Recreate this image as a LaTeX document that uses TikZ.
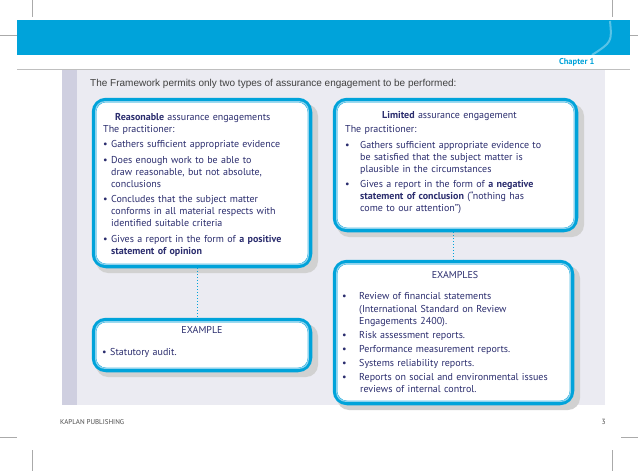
\documentclass[tikz,border=0pt]{standalone}
\usepackage{fontspec}
\setmainfont{PT Sans}
\newfontfamily\arialf{Liberation Sans}
\definecolor{band}{HTML}{00A3DA}
\definecolor{navy}{HTML}{2B2D6E}
\definecolor{panel}{HTML}{EBEBF2}
\definecolor{strip}{HTML}{CFCFE0}
\definecolor{ring}{HTML}{8FD3EE}
\definecolor{crop}{HTML}{AAAAAA}
\newcommand\bl[2][8pt]{\par\vspace{3.5pt}\hangindent=#1\hangafter=1\noindent\makebox[#1][l]{•}#2}
\newcommand\bs[2][17pt]{\par\vspace{1.5pt}\hangindent=#1\hangafter=1\noindent\makebox[#1][l]{•}#2}
\tikzset{
  boxshape/.style={draw=band,line width=4.5pt,fill=white,rounded corners=12pt,inner sep=0pt},
  inring/.style={draw=ring,line width=1.2pt,rounded corners=9pt},
  shade/.style={fill=black!18,rounded corners=12pt},
  txt/.style={text=navy,font=\fontsize{10}{12}\selectfont,inner sep=0pt,anchor=north west},
  dots/.style={draw=band,line width=1pt,dotted},
  cropline/.style={draw=crop,line width=0.6pt}
}
\begin{document}
\begin{tikzpicture}[x=1pt,y=-1pt]
\useasboundingbox (0,0) rectangle (638,471);
\fill[white] (0,0) rectangle (638,471);
% crop marks
\draw[cropline] (32,0)--(32,17) (612,0)--(612,17) (0,35)--(17,35) (621,35)--(638,35);
\draw[cropline] (0,437)--(17,437) (621,437)--(638,437) (32,450)--(32,471) (612,450)--(612,471);
% band
\fill[band] (17,20) rectangle (630,55);
\draw[white,opacity=0.35,line width=2pt] (610,21) .. controls (612,42) .. (592,55);
\draw[black!25,line width=0.6pt] (17,69)--(630,69);
\node[text=band,font=\fontsize{8.5}{10}\selectfont\bfseries,anchor=east] (chap) at (598,62) {Chapter 1};
% panel
\fill[panel] (62,70) rectangle (605,405);
\fill[strip] (62,70) rectangle (77,405);
\node[font=\arialf\fontsize{10}{12}\selectfont,text=black!75,anchor=west,inner sep=0pt] (title) at (90,84) {The Framework permits only two types of assurance engagement to be performed:};
% footer
\node[font=\fontsize{7}{8}\selectfont,text=black!70,anchor=west,inner sep=0pt] (foot) at (60,422) {KAPLAN PUBLISHING};
\node[font=\fontsize{7.5}{8}\selectfont,text=black!70,anchor=east,inner sep=0pt] (page) at (606,422) {3};
% shadows
\fill[shade] (96,104) rectangle (318,273);
\fill[shade] (96,324) rectangle (318,377);
\fill[shade] (337,104) rectangle (584,237);
\fill[shade] (337,266) rectangle (580,410);
% boxes
\node[boxshape,minimum width=216pt,minimum height=166pt] (reas) at (202,183) {};
\node[boxshape,minimum width=216pt,minimum height=50pt] (ex1) at (202,345) {};
\node[boxshape,minimum width=241pt,minimum height=130pt] (lim) at (455.5,165) {};
\node[boxshape,minimum width=237pt,minimum height=141pt] (ex2) at (453.5,332.5) {};
\draw[dots] ([xshift=-5pt]reas.south) -- ([xshift=-5pt]ex1.north);
\draw[dots] ([xshift=-2pt]lim.south) -- ([xshift=0pt]ex2.north);
\foreach \b in {reas,ex1,lim,ex2}{
  \draw[inring] ([xshift=4pt,yshift=-4pt]\b.north west) rectangle ([xshift=-4pt,yshift=4pt]\b.south east);
}
% texts
\node[txt,text width=205pt] (reasT) at (103,113) {\raggedright
\hspace*{12pt}\textbf{Reasonable} assurance engagements\par
The practitioner:
\bl{Gathers sufficient appropriate evidence}
\bl{Does enough work to be able to\newline draw reasonable, but not absolute,\newline conclusions}
\bl{Concludes that the subject matter\newline conforms in all material respects with\newline identified suitable criteria}
\bl{Gives a report in the form of \textbf{a positive}\newline \textbf{statement of opinion}}\par};
\node[txt,text width=200pt,align=center,anchor=north] (ex1H) at (202,326) {EXAMPLE};
\node[txt,text width=200pt] (ex1T) at (102,340) {\raggedright\bl{Statutory audit.}\par};
\node[txt,text width=228pt] (limT) at (345,111) {\raggedright
\hspace*{37pt}\textbf{Limited} assurance engagement\par\vspace{2.5pt}
The practitioner:
\bl[15pt]{Gathers sufficient appropriate evidence to\newline be satisfied that the subject matter is\newline plausible in the circumstances}
\bl[15pt]{Gives a report in the form of \textbf{a negative}\newline \textbf{statement of conclusion} (“nothing has\newline come to our attention”)}\par};
\node[txt,text width=200pt,align=center,anchor=north] (ex2H) at (455,271) {EXAMPLES};
\node[txt,text width=228pt] (ex2T) at (342,287) {\raggedright\fontsize{10}{12.4}\selectfont\vspace*{-1.5pt}
\bs{Review of financial statements\newline (International Standard on Review\newline Engagements 2400).}
\bs{Risk assessment reports.}
\bs{Performance measurement reports.}
\bs{Systems reliability reports.}
\bs{Reports on social and environmental issues\newline \hspace*{1pt}reviews of internal control.}\par};
\end{tikzpicture}
\end{document}
